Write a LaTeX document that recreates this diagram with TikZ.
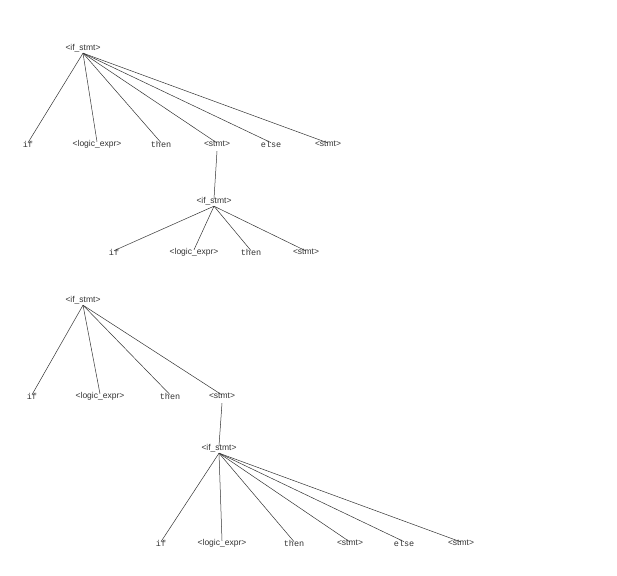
\documentclass[tikz,border=0pt]{standalone}
\usepackage{fontspec}
\setmainfont{Liberation Sans}
\setmonofont{Liberation Mono}
\begin{document}
\begin{tikzpicture}[x=1pt,y=-1pt,
  nt/.style={inner sep=1pt,font=\fontsize{8.5}{10}\selectfont},
  tt/.style={inner sep=1pt,font=\ttfamily\fontsize{8.5}{10}\selectfont},
  every path/.style={line width=0.5pt,black!80}]
\useasboundingbox (0,0) rectangle (617,575);
% tree 1
\node[nt] (r1) at (83,48) {<if\_stmt>};
\node[tt] (a1) at (28,144) {if};
\node[nt] (a2) at (97,144) {<logic\_expr>};
\node[tt] (a3) at (161,144) {then};
\node[nt] (a4) at (217,144) {<stmt>};
\node[tt] (a5) at (271,144) {else};
\node[nt] (a6) at (328,144) {<stmt>};
\foreach \c in {a1,a2,a3,a4,a5,a6} \draw (r1.south) -- ([yshift=-3pt]\c.north);
\node[nt] (s1) at (214,201) {<if\_stmt>};
\draw (a4.south) ++(0,3) -- ([yshift=-3pt]s1.north);
\node[tt] (b1) at (114,252) {if};
\node[nt] (b2) at (194,252) {<logic\_expr>};
\node[tt] (b3) at (251,252) {then};
\node[nt] (b4) at (306,252) {<stmt>};
\foreach \c in {b1,b2,b3,b4} \draw (s1.south) -- ([yshift=-3pt]\c.north);
% tree 2
\node[nt] (r2) at (83,300) {<if\_stmt>};
\node[tt] (c1) at (32,396) {if};
\node[nt] (c2) at (100,396) {<logic\_expr>};
\node[tt] (c3) at (170,396) {then};
\node[nt] (c4) at (222,396) {<stmt>};
\foreach \c in {c1,c2,c3,c4} \draw (r2.south) -- ([yshift=-3pt]\c.north);
\node[nt] (s2) at (219,448) {<if\_stmt>};
\draw (c4.south) ++(0,3) -- ([yshift=-3pt]s2.north);
\node[tt] (d1) at (161,543) {if};
\node[nt] (d2) at (222,543) {<logic\_expr>};
\node[tt] (d3) at (294,543) {then};
\node[nt] (d4) at (350,543) {<stmt>};
\node[tt] (d5) at (404,543) {else};
\node[nt] (d6) at (461,543) {<stmt>};
\foreach \c in {d1,d2,d3,d4,d5,d6} \draw (s2.south) -- ([yshift=-3pt]\c.north);
\end{tikzpicture}
\end{document}
